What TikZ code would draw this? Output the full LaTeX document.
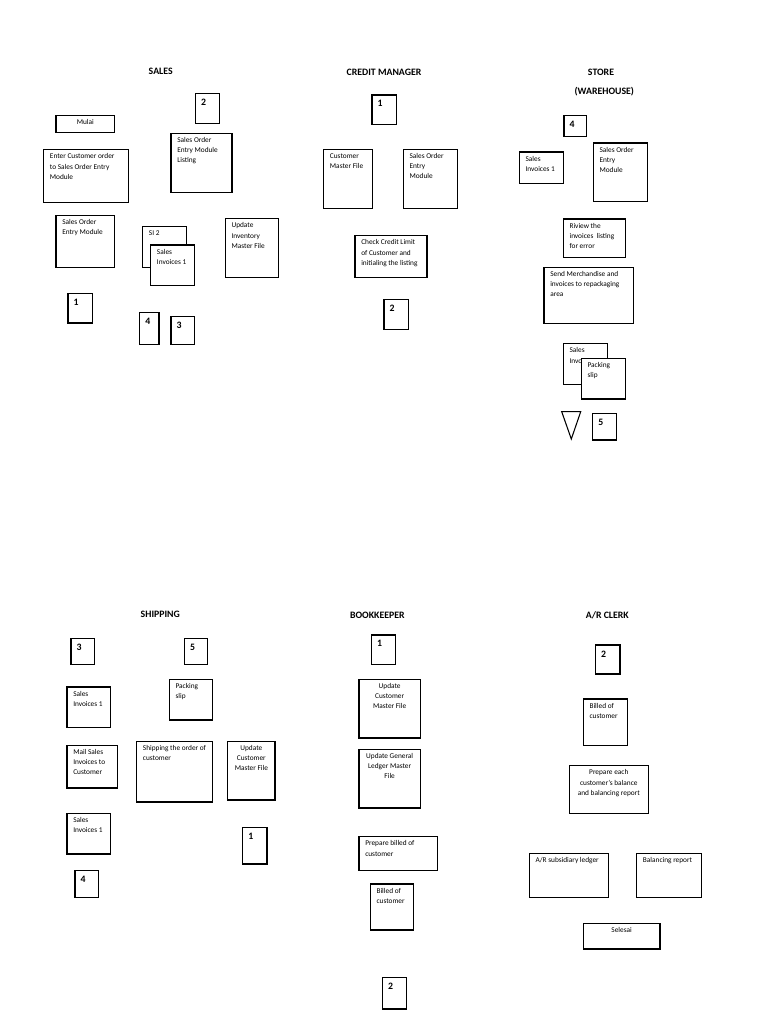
\documentclass[tikz,border=0pt]{standalone}
\usepackage{fontspec}
\setmainfont{Carlito}
\usetikzlibrary{fit}
\newcommand\txtf{\fontsize{5.5pt}{7.7pt}\selectfont}
\newcommand\ttlf{\fontsize{7.35pt}{9pt}\selectfont\bfseries}
\tikzset{
  box/.style={draw, line width=0.8pt, inner sep=0pt, fill=white},
  tl/.style={anchor=north west, inner sep=0pt, xshift=4.9pt, yshift=-3.2pt, align=left, font=\txtf},
  tc/.style={anchor=north, inner sep=0pt, yshift=-3.2pt, align=center, font=\txtf},
  dg/.style={anchor=north west, inner sep=0pt, xshift=4.5pt, yshift=-4.4pt, font=\ttlf},
  title/.style={anchor=base, inner sep=0pt, font=\ttlf}
}
\begin{document}
\begin{tikzpicture}[x=0.75pt, y=-0.75pt]
\useasboundingbox (0,0) rectangle (768,1024);
\fill[white] (0,0) rectangle (768,1024);
% titles
\node[title] (tsales) at (160.7,74.8) {SALES};
\node[title] (tcredit) at (384,75.4) {CREDIT MANAGER};
\node[title] (tstore) at (601,75.8) {STORE};
\node[title] (twh) at (604.3,94.8) {(WAREHOUSE)};
\node[title] (tship) at (160.3,617.8) {SHIPPING};
\node[title] (tbook) at (377.3,618.1) {BOOKKEEPER};
\node[title] (tar) at (607.3,618.8) {A/R CLERK};
% SALES
\node[box, fit={(195.3,93.3)(219.3,123.3)}, label={[dg]north west:2}] (s2) {};
\node[box, fit={(56,115.7)(114.7,132.3)}, label={[tc]north:{Mulai}}] (mulai) {};
\node[box, fit={(43.7,149.7)(128.7,202.7)}, label={[tl]north west:{Enter Customer order\\to Sales Order Entry\\Module}}] (enter) {};
\node[box, fit={(171,133.3)(232,192.3)}, label={[tl]north west:{Sales Order\\Entry Module\\Listing}}] (sol) {};
\node[box, fit={(56,215.3)(114.7,267.3)}, label={[tl]north west:{Sales Order\\Entry Module}}] (soem) {};
\node[box, fit={(142.7,226.7)(186.7,267.3)}, label={[tl]north west:{SI 2}}] (si2) {};
\node[box, fit={(150.7,245)(194.7,285.7)}, label={[tl]north west:{Sales\\Invoices 1}}] (si1) {};
\node[box, fit={(225.3,218.7)(278.3,277.3)}, label={[tl]north west:{Update\\Inventory\\Master File}}] (uimf) {};
\node[box, fit={(68,293.7)(92.3,323)}, label={[dg]north west:1}] (s1) {};
\node[box, fit={(139.7,312.7)(159,344.3)}, label={[dg]north west:4}] (s4) {};
\node[box, fit={(171,316.7)(194.3,344.3)}, label={[dg]north west:3}] (s3) {};
% CREDIT MANAGER
\node[box, fit={(372,95)(396.7,124.3)}, label={[dg]north west:1}] (c1) {};
\node[box, fit={(323.7,149.3)(372.3,208.3)}, label={[tl]north west:{Customer\\Master File}}] (cmf) {};
\node[box, fit={(403.3,149.3)(457.3,208.3)}, label={[tl]north west:{Sales Order\\Entry\\Module}}] (csoem) {};
\node[box, fit={(355,235.7)(427,277.3)}, label={[tl]north west:{Check Credit Limit\\of Customer and\\initialing the listing}}] (ccl) {};
\node[box, fit={(384,299.3)(408.7,329.3)}, label={[dg]north west:2}] (c2) {};
% STORE
\node[box, fit={(564,115.7)(586.7,136.7)}, label={[dg]north west:4}] (w4) {};
\node[box, fit={(519.3,152)(563.3,183.3)}, label={[tl]north west:{Sales\\Invoices 1}}] (wsi1) {};
\node[box, fit={(593.3,143)(647.3,201.3)}, label={[tl]north west:{Sales Order\\Entry\\Module}}] (wsoem) {};
\node[box, fit={(563.3,219)(625.3,257.3)}, label={[tl]north west:{Riview the\\invoices\ \ listing\\for error}}] (wriv) {};
\node[box, fit={(544,267.3)(633.3,323.3)}, label={[tl]north west:{Send Merchandise and\\invoices to repackaging\\area}}] (wsend) {};
\node[box, fit={(563.3,343.7)(607.3,384.3)}, label={[tl]north west:{Sales\\Invo}}] (wsib) {};
\node[box, fit={(581.3,358.3)(625.3,399)}, label={[tl]north west:{Packing\\slip}}] (wps) {};
\draw[line width=0.8pt] (561.7,411.7) -- (580.7,411.7) -- (571.3,439) -- cycle;
\node[box, fit={(592.7,413.3)(616.7,440)}, label={[dg]north west:5}] (w5) {};
% SHIPPING
\node[box, fit={(71,638.3)(94.3,664.3)}, label={[dg]north west:3}] (h3) {};
\node[box, fit={(184.3,638.3)(207.3,664.3)}, label={[dg]north west:5}] (h5) {};
\node[box, fit={(67,687)(110.3,727.3)}, label={[tl]north west:{Sales\\Invoices 1}}] (hsi1) {};
\node[box, fit={(169.3,679.3)(212.3,720)}, label={[tl]north west:{Packing\\slip}}] (hps) {};
\node[box, fit={(67,745.3)(117.7,788)}, label={[tl]north west:{Mail Sales\\Invoices to\\Customer}}] (hmail) {};
\node[box, fit={(136.7,741.3)(212.3,802)}, label={[tl]north west:{Shipping the order of\\customer}}] (hship) {};
\node[box, fit={(227.7,741.3)(275,800)}, label={[tc]north:{Update\\Customer\\Master File}}] (hucmf) {};
\node[box, fit={(67,813.3)(110.3,854)}, label={[tl]north west:{Sales\\Invoices 1}}] (hsi1b) {};
\node[box, fit={(242.7,827.3)(267,864)}, label={[dg]north west:1}] (h1) {};
\node[box, fit={(75,870.7)(98.3,897.3)}, label={[dg]north west:4}] (h4) {};
% BOOKKEEPER
\node[box, fit={(371.3,635)(395.7,664.3)}, label={[dg]north west:1}] (b1) {};
\node[box, fit={(359,679.3)(420.3,738)}, label={[tc]north:{Update\\Customer\\Master File}}] (bucmf) {};
\node[box, fit={(359,749.3)(420.3,808)}, label={[tc]north:{Update General\\Ledger Master\\File}}] (bugl) {};
\node[box, fit={(359,836.7)(437.7,870.7)}, label={[tl]north west:{Prepare billed of\\customer}}] (bpb) {};
\node[box, fit={(370.3,884)(413.7,930)}, label={[tl]north west:{Billed of\\customer}}] (bbc) {};
\node[box, fit={(382.3,977.7)(406.3,1009)}, label={[dg]north west:2}] (b2) {};
% A/R CLERK
\node[box, fit={(595.3,645)(620,674)}, label={[dg]north west:2}] (a2) {};
\node[box, fit={(583.3,699)(627.3,745.7)}, label={[tl]north west:{Billed of\\customer}}] (abc) {};
\node[box, fit={(569.3,765.7)(648.3,813.3)}, label={[tc]north:{Prepare each\\customer's balance\\and balancing report}}] (aprep) {};
\node[box, fit={(529.3,853.3)(608.7,897.3)}, label={[tl]north west:{A/R subsidiary ledger}}] (asub) {};
\node[box, fit={(636.7,853.3)(701.7,897.3)}, label={[tl]north west:{Balancing report}}] (abal) {};
\node[box, fit={(583.3,923.3)(660,949)}, label={[tc]north:{Selesai}}] (asel) {};
\end{tikzpicture}
\end{document}
